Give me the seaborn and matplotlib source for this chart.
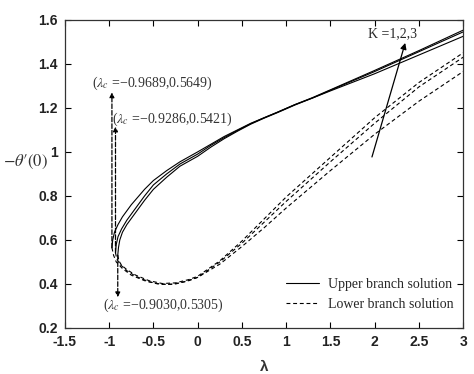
import seaborn as sns
import matplotlib.pyplot as plt
import pandas as pd

# upper branch (solid), one list per K, starting at the turning point
up_lam_1 = [-0.9689, -0.96, -0.94, -0.90, -0.85, -0.75, -0.6, -0.5, -0.35, -0.2, 0.0, 0.15, 0.3, 0.45, 0.6, 0.75, 0.9, 1.1, 1.3, 1.5, 2.0, 2.5, 3.0]
up_th_1 = [0.5649, 0.60, 0.635, 0.67, 0.705, 0.76, 0.83, 0.87, 0.915, 0.955, 1.0, 1.035, 1.07, 1.10, 1.13, 1.155, 1.18, 1.215, 1.245, 1.28, 1.365, 1.455, 1.545]
up_lam_2 = [-0.9286, -0.92, -0.90, -0.86, -0.80, -0.70, -0.6, -0.5, -0.35, -0.2, 0.0, 0.15, 0.3, 0.45, 0.6, 0.75, 0.9, 1.1, 1.3, 1.5, 2.0, 2.5, 3.0]
up_th_2 = [0.5421, 0.58, 0.615, 0.65, 0.69, 0.745, 0.80, 0.85, 0.90, 0.945, 0.99, 1.03, 1.065, 1.097, 1.128, 1.155, 1.18, 1.215, 1.247, 1.282, 1.37, 1.46, 1.553]
up_lam_3 = [-0.9030, -0.895, -0.88, -0.85, -0.80, -0.70, -0.6, -0.5, -0.35, -0.2, 0.0, 0.15, 0.3, 0.45, 0.6, 0.75, 0.9, 1.1, 1.3, 1.5, 2.0, 2.5, 3.0]
up_th_3 = [0.5305, 0.565, 0.60, 0.635, 0.67, 0.725, 0.78, 0.83, 0.885, 0.935, 0.98, 1.022, 1.06, 1.094, 1.126, 1.153, 1.178, 1.213, 1.245, 1.277, 1.355, 1.44, 1.525]

# lower branch (dashed)
lo_lam_1 = [-0.9689, -0.95, -0.92, -0.85, -0.75, -0.6, -0.45, -0.3, -0.15, 0.0, 0.25, 0.5, 0.75, 1.0, 1.5, 2.0, 2.5, 3.0]
lo_th_1 = [0.5649, 0.53, 0.50, 0.47, 0.44, 0.415, 0.40, 0.398, 0.41, 0.43, 0.49, 0.57, 0.655, 0.745, 0.915, 1.08, 1.23, 1.365]
lo_lam_2 = [-0.9286, -0.915, -0.88, -0.80, -0.70, -0.55, -0.4, -0.25, -0.1, 0.0, 0.25, 0.5, 0.75, 1.0, 1.5, 2.0, 2.5, 3.0]
lo_th_2 = [0.5421, 0.515, 0.49, 0.46, 0.435, 0.41, 0.398, 0.40, 0.415, 0.43, 0.50, 0.585, 0.68, 0.775, 0.955, 1.13, 1.295, 1.43]
lo_lam_3 = [-0.9030, -0.89, -0.86, -0.80, -0.70, -0.55, -0.4, -0.25, -0.1, 0.0, 0.25, 0.5, 0.75, 1.0, 1.5, 2.0, 2.5, 3.0]
lo_th_3 = [0.5305, 0.505, 0.485, 0.465, 0.44, 0.415, 0.402, 0.405, 0.42, 0.435, 0.505, 0.595, 0.695, 0.795, 0.975, 1.155, 1.315, 1.45]

crit_lam = [-0.9689, -0.9286, -0.9030]
crit_th = [0.5649, 0.5421, 0.5305]
crit_labels = [r'($\lambda_c$ =−0.9689,0.5649)', r'($\lambda_c$ =−0.9286,0.5421)', r'($\lambda_c$ =−0.9030,0.5305)']
label_pos = [(-1.19, 1.31), (-0.97, 1.15), (-1.07, 0.305)]
arrow_end = [1.27, 1.115, 0.34]

sns.set_style("ticks")
plt.rcParams['font.family'] = ['Liberation Sans', 'DejaVu Sans']
plt.rcParams['mathtext.fontset'] = 'stix'

fig = plt.figure(figsize=(4.74, 3.74), dpi=100)
ax = fig.add_axes([0.137, 0.123, 0.840, 0.824])

ups = [(up_lam_1, up_th_1), (up_lam_2, up_th_2), (up_lam_3, up_th_3)]
los = [(lo_lam_1, lo_th_1), (lo_lam_2, lo_th_2), (lo_lam_3, lo_th_3)]
for i, (lx, ly) in enumerate(ups):
    df = pd.DataFrame({'lam': lx, 'th': ly})
    sns.lineplot(data=df, x='lam', y='th', sort=False, estimator=None, color='black',
                 lw=0.8, ax=ax, label='Upper branch solution' if i == 0 else None)
for i, (lx, ly) in enumerate(los):
    df = pd.DataFrame({'lam': lx, 'th': ly})
    sns.lineplot(data=df, x='lam', y='th', sort=False, estimator=None, color='black',
                 lw=0.8, ax=ax, linestyle=(0, (3.5, 2.5)),
                 label='Lower branch solution' if i == 0 else None)

serif = ['Liberation Serif', 'DejaVu Serif']
for lam, th, lab, pos, yend in zip(crit_lam, crit_th, crit_labels, label_pos, arrow_end):
    ax.annotate('', xy=(lam, yend), xytext=(lam, th),
                arrowprops=dict(arrowstyle='-|>', ls='--', lw=0.9, color='black',
                                mutation_scale=7, shrinkA=0, shrinkB=0))
    ax.text(pos[0], pos[1], lab, fontsize=10, family=serif, color='#333333', va='center')

ax.annotate('', xy=(2.346, 1.495), xytext=(1.97, 0.977),
            arrowprops=dict(arrowstyle='-|>', lw=0.9, color='black',
                            mutation_scale=9, shrinkA=0, shrinkB=0))
ax.text(2.2, 1.535, 'K =1,2,3', fontsize=10, family=serif, ha='center', va='center')

ax.set_xlim(-1.5, 3)
ax.set_ylim(0.2, 1.6)
ax.set_xticks([-1.5, -1, -0.5, 0, 0.5, 1, 1.5, 2, 2.5, 3])
ax.set_xticklabels(['-1.5', '-1', '-0.5', '0', '0.5', '1', '1.5', '2', '2.5', '3'])
ax.set_yticks([0.2, 0.4, 0.6, 0.8, 1.0, 1.2, 1.4, 1.6])
ax.set_yticklabels(['0.2', '0.4', '0.6', '0.8', '1', '1.2', '1.4', '1.6'])
ax.tick_params(direction='in', top=True, right=True, length=4, width=0.8,
               labelsize=10, colors='black', pad=5)
for t in ax.get_xticklabels() + ax.get_yticklabels():
    t.set_color('#222222')
    t.set_fontweight('bold')
for s in ax.spines.values():
    s.set_linewidth(0.9)
    s.set_color('#333333')

ax.set_xlabel('λ', fontsize=11, fontweight='bold', color='#333333')
ax.xaxis.set_label_coords(0.5, -0.105)
ax.set_ylabel(r"$-\theta\prime(0)$", fontsize=12, rotation=0, color='#333333',
              va='center', ha='center')
ax.yaxis.set_label_coords(-0.1, 0.54)

leg = ax.legend(loc='lower right', frameon=False, prop={'family': serif, 'size': 10},
                handlelength=2.4, handletextpad=0.6, borderaxespad=0.3, labelspacing=0.45,
                bbox_to_anchor=(1.0, 0.025))

fig.savefig('out.png', dpi=100)
